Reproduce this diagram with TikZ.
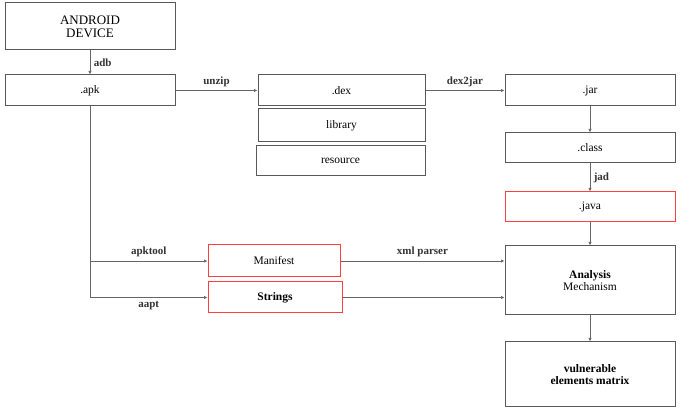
\documentclass[tikz,border=0pt]{standalone}
\usepackage{fontspec}
\setmainfont{Liberation Serif}
\usetikzlibrary{arrows.meta}
\begin{document}
\begin{tikzpicture}[x=1pt,y=-1pt,
 box/.style={draw=gray!70!black,line width=1pt,fill=white,inner sep=0pt,font=\fontsize{11.5}{12}\selectfont,align=center},
 rbox/.style={box,draw=red!75},
 arr/.style={draw=gray!80!black,line width=0.9pt,-{Latex[length=3.5pt,width=3.5pt]}},
 lab/.style={font=\fontsize{11}{12}\selectfont\bfseries,text=black!80}]
\useasboundingbox (0,0) rectangle (680,411);
\node[box,minimum width=170,minimum height=47,font=\fontsize{13}{13}\selectfont] (and) at (90,26.5) {ANDROID\\DEVICE};
\node[box,minimum width=170,minimum height=31] (apk) at (90,90.5) {.apk};
\node[box,minimum width=167,minimum height=31] (dex) at (341.5,90.5) {.dex};
\node[box,minimum width=167,minimum height=33] (lib) at (341.5,125.5) {library};
\node[box,minimum width=169,minimum height=30] (res) at (340.5,161) {resource};
\node[box,minimum width=170,minimum height=31] (jar) at (590,90.5) {.jar};
\node[box,minimum width=170,minimum height=30] (cls) at (590,148) {.class};
\node[rbox,minimum width=170,minimum height=30] (java) at (590,207) {.java};
\node[rbox,minimum width=132,minimum height=32] (man) at (274,261) {Manifest};
\node[rbox,minimum width=134,minimum height=31] (str) at (275,297.5) {\textbf{Strings}};
\node[box,minimum width=170,minimum height=69] (ana) at (590,280.5) {\textbf{Analysis}\\Mechanism};
\node[box,minimum width=170,minimum height=65] (vul) at (590,374.5) {\textbf{vulnerable}\\\textbf{elements matrix}};
\draw[arr] (and) -- node[lab,right] {adb} (apk);
\draw[arr] (apk) -- node[lab,above] {unzip} (dex);
\draw[arr] (dex) -- node[lab,above] {dex2jar} (jar);
\draw[arr] (jar) -- (cls);
\draw[arr] (cls) -- node[lab,right] {jad} (java);
\draw[arr] (java) -- (ana);
\draw[arr] (apk.south) |- node[lab,above,pos=0.75] {apktool} (man.west);
\draw[arr] (apk.south) |- node[lab,below,pos=0.75] {aapt} (str.west);
\draw[arr] (man.east) -- node[lab,above] {xml parser} (man.east -| ana.west);
\draw[arr] (str.east) -- (str.east -| ana.west);
\draw[arr] (ana) -- (vul);
\end{tikzpicture}
\end{document}
